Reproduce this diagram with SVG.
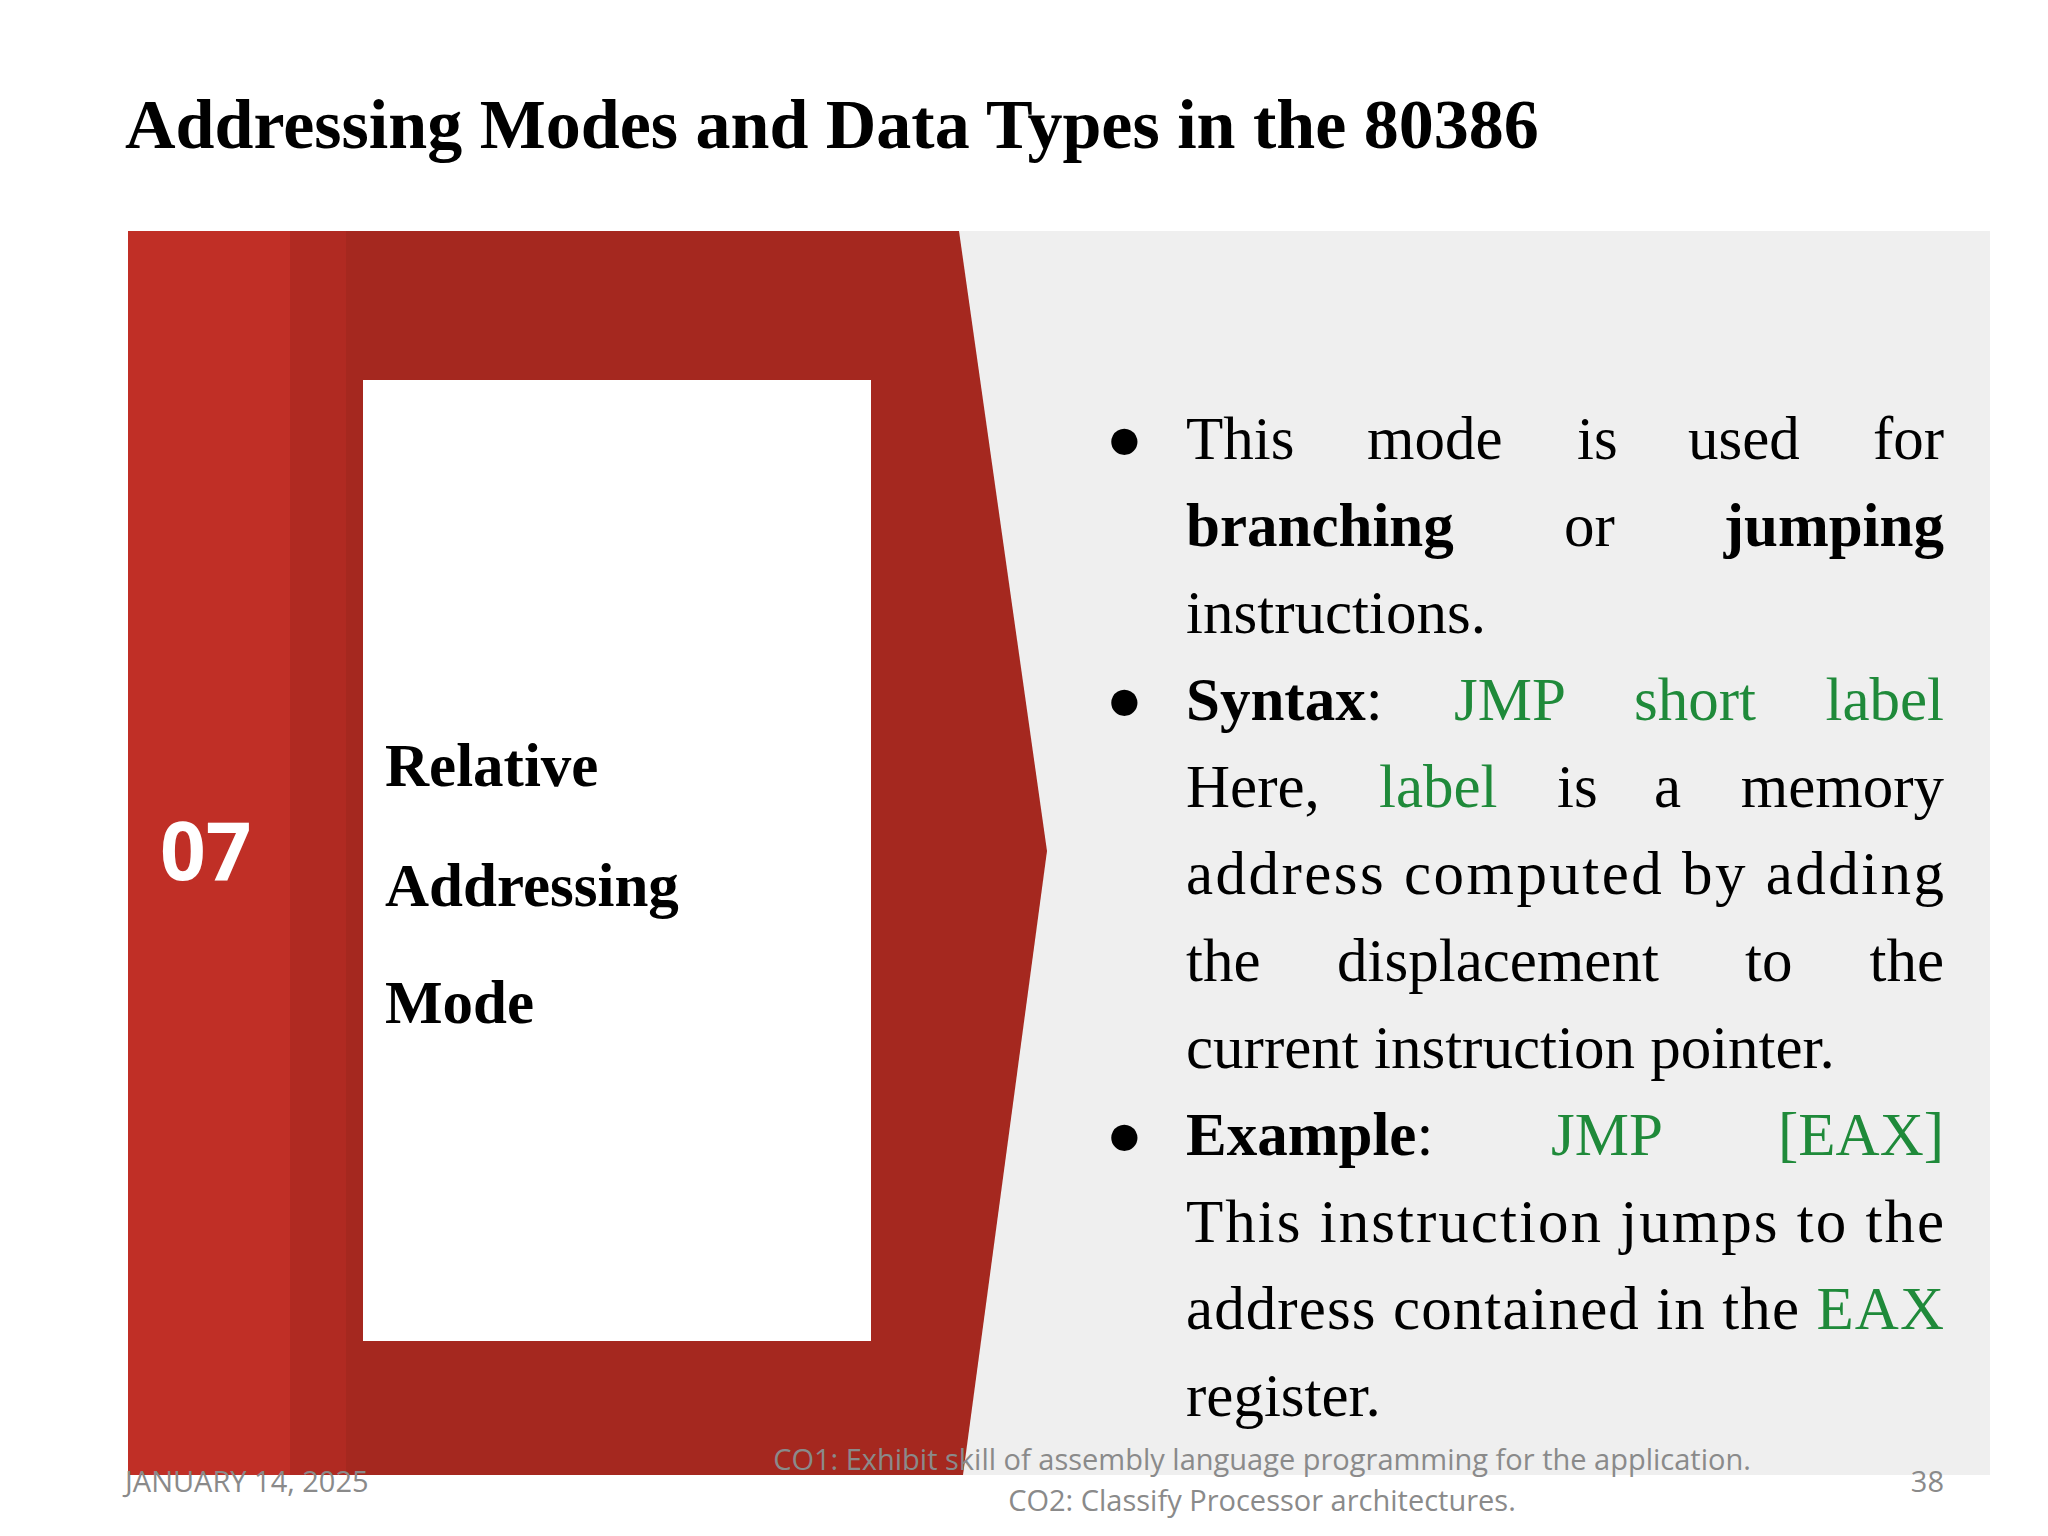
<svg xmlns="http://www.w3.org/2000/svg" width="2048" height="1536" viewBox="0 0 2048 1536">
<style>
.s{font-family:"Liberation Serif","Times New Roman",serif;font-size:61px;fill:#000}
.b{font-weight:bold}
.g{fill:#1F8A3A}
.f{font-family:"Open Sans","Liberation Sans",sans-serif;font-size:29px;fill:#8a8a8a}
</style>
<rect width="2048" height="1536" fill="#fff"/>
<text x="125" y="148" font-family="Liberation Serif,serif" font-weight="bold" font-size="70">Addressing Modes and Data Types in the 80386</text>
<rect x="959" y="231" width="1031" height="1244" fill="#efefef"/>
<g id="banner">
<polygon points="346,231 959,231 1047,851 963,1475 346,1475" fill="#A5281F"/>
<rect x="128" y="231" width="162" height="1244" fill="#C02F26"/>
<rect x="290" y="231" width="56" height="1244" fill="#B02A22"/>
<text x="160" y="880" font-family="Open Sans,Liberation Sans,sans-serif" font-weight="bold" font-size="80" fill="#fff">07</text>
</g>
<g id="titlebox">
<rect x="363" y="380" width="508" height="961" fill="#fff"/>
<text class="s b" font-size="82" x="385" y="786">Relative</text>
<text class="s b" font-size="82" x="385" y="906">Addressing</text>
<text class="s b" font-size="82" x="385" y="1023">Mode</text>
</g>
<g id="content" class="s">
<text class="s" x="1106" y="459" font-size="50">●</text>
<text class="s" x="1106" y="720" font-size="50">●</text>
<text class="s" x="1106" y="1155" font-size="50">●</text>
<text class="s" y="459"><tspan x="1186">This</tspan><tspan x="1367">mode</tspan><tspan x="1577">is</tspan><tspan x="1688">used</tspan><tspan x="1873">for</tspan></text>
<text class="s" y="546"><tspan x="1186" class="b">branching</tspan><tspan x="1564">or</tspan><tspan x="1944" text-anchor="end" class="b">jumping</tspan></text>
<text class="s" x="1186" y="633">instructions.</text>
<text class="s" y="720"><tspan x="1186" class="b">Syntax</tspan><tspan>:</tspan><tspan x="1454" class="g">JMP</tspan><tspan x="1634" class="g">short</tspan><tspan x="1944" text-anchor="end" class="g">label</tspan></text>
<text class="s" y="807"><tspan x="1186">Here,</tspan><tspan x="1379" class="g">label</tspan><tspan x="1557">is</tspan><tspan x="1654">a</tspan><tspan x="1944" text-anchor="end">memory</tspan></text>
<text class="s" x="1186" y="894" textLength="758" lengthAdjust="spacing">address computed by adding</text>
<text class="s" y="981"><tspan x="1186">the</tspan><tspan x="1337">displacement</tspan><tspan x="1745">to</tspan><tspan x="1944" text-anchor="end">the</tspan></text>
<text class="s" x="1186" y="1068">current instruction pointer.</text>
<text class="s" y="1155"><tspan x="1186" class="b">Example</tspan><tspan>:</tspan><tspan x="1551" class="g">JMP</tspan><tspan x="1944" text-anchor="end" class="g">[EAX]</tspan></text>
<text class="s" x="1186" y="1242" textLength="758" lengthAdjust="spacing">This instruction jumps to the</text>
<text class="s" x="1186" y="1329" textLength="758" lengthAdjust="spacing">address contained in the <tspan class="g">EAX</tspan></text>
<text class="s" x="1186" y="1416">register.</text>
</g>
<g id="footer" class="f">
<text class="f" x="125" y="1492">JANUARY 14, 2025</text>
<text class="f" x="1262" y="1470" text-anchor="middle">CO1: Exhibit skill of assembly language programming for the application.</text>
<text class="f" x="1262" y="1511" text-anchor="middle">CO2: Classify Processor architectures.</text>
<text class="f" x="1944" y="1492" text-anchor="end">38</text>
</g>
</svg>
